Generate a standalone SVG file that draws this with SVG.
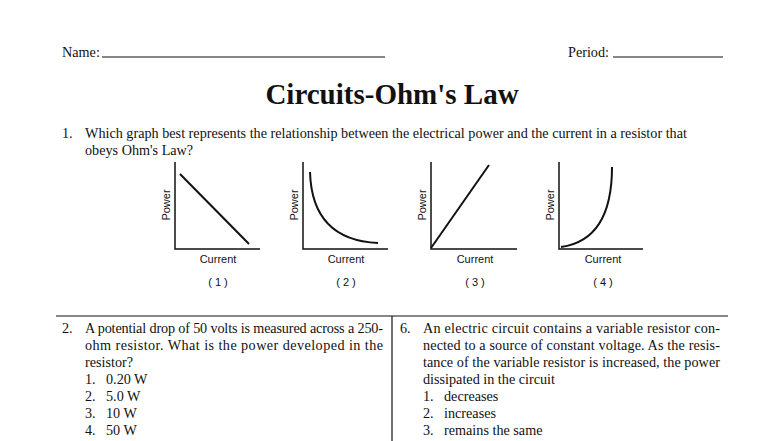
<svg xmlns="http://www.w3.org/2000/svg" width="784" height="441" viewBox="0 0 784 441">
<style>
.s{font-family:"Liberation Serif",serif;font-size:14.2px;fill:#111}
.a{font-family:"Liberation Sans",sans-serif;font-size:11px;fill:#111}
.ax{fill:none;stroke:#111;stroke-width:1.5}
.c{fill:none;stroke:#111;stroke-width:2}
</style>
<rect width="784" height="441" fill="#fff"/>
<text class="s" x="62" y="57">Name:</text>
<line x1="102" y1="57" x2="385" y2="57" stroke="#111" stroke-width="1.2"/>
<text class="s" x="568" y="57">Period:</text>
<line x1="613" y1="57" x2="723" y2="57" stroke="#111" stroke-width="1.2"/>
<text x="392" y="104" text-anchor="middle" style="font-family:'Liberation Serif',serif;font-size:29px;font-weight:bold;fill:#111">Circuits-Ohm's Law</text>
<text class="s" x="62" y="138">1.</text>
<text class="s" x="85" y="138">Which graph best represents the relationship between the electrical power and the current in a resistor that</text>
<text class="s" x="85" y="155">obeys Ohm's Law?</text>
<g id="graph1">
<path class="ax" d="M175 162V249H260"/><line class="c" x1="180" y1="174" x2="249" y2="244"/>
<text class="a" transform="translate(170,205) rotate(-90)" text-anchor="middle">Power</text>
<text class="a" x="218" y="263" text-anchor="middle">Current</text><text class="a" x="218" y="286" text-anchor="middle">( 1 )</text></g>
<g id="graph2">
<path class="ax" d="M303 162V249H388"/><path class="c" d="M310 172Q312 240 378 243"/>
<text class="a" transform="translate(298,205) rotate(-90)" text-anchor="middle">Power</text>
<text class="a" x="346" y="263" text-anchor="middle">Current</text><text class="a" x="346" y="286" text-anchor="middle">( 2 )</text></g>
<g id="graph3">
<path class="ax" d="M431 162V249H517"/><line class="c" x1="431" y1="248" x2="489" y2="165"/>
<text class="a" transform="translate(426,205) rotate(-90)" text-anchor="middle">Power</text>
<text class="a" x="475" y="263" text-anchor="middle">Current</text><text class="a" x="475" y="286" text-anchor="middle">( 3 )</text></g>
<g id="graph4">
<path class="ax" d="M559 162V249H643"/><path class="c" d="M561 247Q612 240 612 167"/>
<text class="a" transform="translate(554,205) rotate(-90)" text-anchor="middle">Power</text>
<text class="a" x="603" y="263" text-anchor="middle">Current</text><text class="a" x="603" y="286" text-anchor="middle">( 4 )</text></g>
<line x1="56" y1="316" x2="728" y2="316" stroke="#111" stroke-width="1.2"/>
<line x1="392" y1="316" x2="392" y2="441" stroke="#111" stroke-width="1.2"/>
<text class="s" x="62" y="333">2.</text>
<text class="s" x="85" y="333" textLength="298">A potential drop of 50 volts is measured across a 250-</text>
<text class="s" x="85" y="350" textLength="298">ohm resistor.  What is the power developed in the</text>
<text class="s" x="85" y="367">resistor?</text>
<text class="s" x="85" y="384">1.</text><text class="s" x="106" y="384">0.20 W</text>
<text class="s" x="85" y="401">2.</text><text class="s" x="106" y="401">5.0 W</text>
<text class="s" x="85" y="418">3.</text><text class="s" x="106" y="418">10 W</text>
<text class="s" x="85" y="435">4.</text><text class="s" x="106" y="435">50 W</text>
<text class="s" x="400" y="333">6.</text>
<text class="s" x="423" y="333" textLength="297">An electric circuit contains a variable resistor con-</text>
<text class="s" x="423" y="350" textLength="297">nected to a source of constant voltage.  As the resis-</text>
<text class="s" x="423" y="367" textLength="297">tance of the variable resistor is increased, the power</text>
<text class="s" x="423" y="384">dissipated in the circuit</text>
<text class="s" x="423" y="401">1.</text><text class="s" x="444" y="401">decreases</text>
<text class="s" x="423" y="418">2.</text><text class="s" x="444" y="418">increases</text>
<text class="s" x="423" y="435">3.</text><text class="s" x="444" y="435">remains the same</text>
</svg>
